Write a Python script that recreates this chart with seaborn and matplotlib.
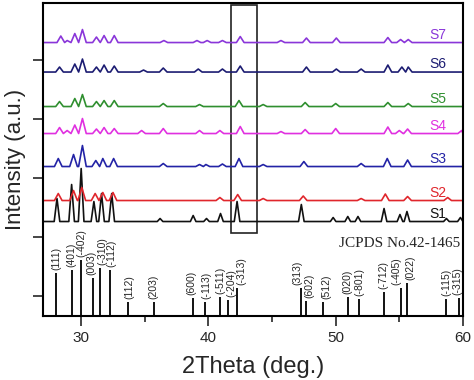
import numpy as np
import pandas as pd
import matplotlib
matplotlib.use('Agg')
import matplotlib.pyplot as plt
from matplotlib.patches import Rectangle
import seaborn as sns

sns.set_theme(style='ticks')
plt.rcParams['font.family'] = 'sans-serif'
plt.rcParams['font.sans-serif'] = ['Liberation Sans', 'DejaVu Sans']

# ---------------- data ----------------
# intensities are in "pixels above the x axis" of the original figure
samples = ['S1', 'S2', 'S3', 'S4', 'S5', 'S6', 'S7']
colors = ['#111111', '#e0262c', '#2323a6', '#e030e0', '#2f8f2f', '#1c1c72', '#8a36d9']
baselines = [94.5, 115.5, 149.5, 182.5, 209.5, 244, 273.5]

s1_pos = [28.1, 29.25, 30.0, 31.0, 31.6, 32.4, 36.2, 38.8, 39.85, 40.95, 42.25, 47.3, 49.8, 50.95, 51.75, 53.8, 55.05, 55.6, 58.7, 59.8]
s1_int = [23, 37, 53, 20, 28, 28, 3, 6, 3, 8, 20, 17, 4, 5, 5, 13, 7, 10, 3, 4]
s2_pos = [28.2, 29.4, 30.05, 31.1, 31.7, 32.5, 40.9, 42.3, 44.3, 47.45, 52.0, 53.9, 55.65, 58.8]
s2_int = [7, 10, 13, 7, 8, 8, 3, 6, 2, 4.5, 2, 6.5, 4, 3]
s3_pos = [28.2, 29.4, 30.1, 31.15, 31.7, 32.55, 36.45, 39.3, 39.8, 41.1, 42.4, 44.3, 47.5, 52.0, 54.05, 55.65]
s3_int = [8, 12, 21, 6, 8, 8, 3, 2, 2, 2.5, 8, 2, 5, 3, 8, 6.5]
s4_pos = [28.3, 28.9, 29.5, 30.1, 31.2, 31.8, 32.6, 34.75, 36.45, 39.3, 40.9, 42.5, 45.7, 47.6, 50.0, 54.1, 55.0, 55.65, 59.9]
s4_int = [6, 3, 8.5, 15, 4.5, 6, 5, 3, 5, 3, 3, 7, 2, 4, 5, 6.5, 3, 4.5, 3]
s5_pos = [28.3, 29.5, 30.1, 31.2, 31.8, 32.6, 36.45, 39.3, 42.4, 44.3, 47.6, 50.0, 54.1, 55.7]
s5_int = [5, 8, 12, 5, 6, 6, 3, 2, 6, 2, 4, 3, 4, 3]
s6_pos = [28.3, 29.5, 30.1, 31.2, 31.8, 32.6, 34.9, 36.45, 39.2, 41.1, 42.5, 47.7, 50.05, 52.0, 54.1, 55.2, 55.7]
s6_int = [5, 8, 13, 5, 7, 6, 2, 4, 3, 3, 6, 5, 3, 3, 7, 5, 5]
s7_pos = [28.4, 28.9, 29.5, 30.1, 31.2, 31.8, 32.6, 36.5, 39.1, 39.9, 41.1, 42.5, 45.7, 47.7, 50.05, 54.1, 55.1, 55.7]
s7_int = [6.5, 2, 9, 13, 5.5, 7, 7, 2, 2, 2, 2, 6, 2, 4.5, 4.5, 5, 3, 3]

# JCPDS No.42-1465 reference pattern
hkl = ['(111)', '(401)', '(-402)', '(003)', '(-310)', '(-112)', '(112)', '(203)',
       '(600)', '(-113)', '(-511)', '(-204)', '(-313)', '(313)', '(602)', '(512)',
       '(020)', '(-801)', '(-712)', '(-405)', '(022)', '(-115)', '(-315)']
ref_pos = [28.0, 29.25, 29.95, 30.9, 31.5, 32.3, 33.7, 35.7, 38.8, 39.7, 40.9, 41.5,
           42.25, 47.3, 47.65, 49.0, 51.0, 51.85, 53.8, 55.1, 55.6, 58.7, 59.7]
ref_int = [43, 46, 56, 38, 48, 46, 14, 14, 18, 14, 19, 16, 28, 28, 15, 14, 19, 17,
           24, 28, 33, 17, 18]
# where the hkl labels sit (they are spread a bit where sticks crowd)
hkl_x = [28.02, 29.2, 29.98, 30.84, 31.63, 32.41, 33.8, 35.67, 38.69, 39.86, 40.9,
         41.82, 42.6, 47.02, 47.96, 49.27, 50.89, 51.89, 53.71, 54.76, 55.86, 58.69, 59.57]

peaks = [(s1_pos, s1_int), (s2_pos, s2_int), (s3_pos, s3_int), (s4_pos, s4_int),
         (s5_pos, s5_int), (s6_pos, s6_int), (s7_pos, s7_int)]


def peak_path(pos, heights, base, hw, x0=27.0, x1=60.0):
    # polyline: flat baseline with a sharp peak at every read peak position
    xs, ys = [x0], [base]
    for p, h in zip(pos, heights):
        left = max(p - hw, xs[-1])
        xs += [left, p, min(p + hw, x1)]
        ys += [base, base + h, base]
    xs.append(x1)
    ys.append(base)
    return pd.DataFrame({'two_theta': xs, 'intensity': ys})


fig = plt.figure(figsize=(4.74, 3.8), dpi=100)
ax = fig.add_axes([0.0907, 0.1684, 0.886, 0.8236])

for i, (name, col, base, (pos, hts)) in enumerate(zip(samples, colors, baselines, peaks)):
    hw = 0.22 if i == 0 else 0.3
    d = peak_path(pos, hts, base, hw)
    sns.lineplot(data=d, x='two_theta', y='intensity', color=col, lw=1.2,
                 estimator=None, sort=False, ax=ax)
    ax.text(58.0, base + 8, name, color=col, fontsize=10, ha='center', va='center')

# reference sticks
ax.vlines(ref_pos, 0, ref_int, color='black', lw=1.3)
for lx, h, lab in zip(hkl_x, ref_int, hkl):
    ax.text(lx, h + 3, lab, rotation=90, fontsize=7.5, ha='center', va='bottom')
ax.text(59.75, 73, 'JCPDS No.42-1465', family=['Liberation Serif', 'DejaVu Serif'],
        fontsize=11, ha='right', va='center')

# box around the ~42.3 deg peak
ax.add_patch(Rectangle((41.75, 83), 2.1, 228, fill=False, ec='#222222', lw=1.2))

ax.set_xlim(27, 60)
ax.set_ylim(0, 313)
ax.set_xticks([30, 40, 50, 60])
ax.set_xticks([35, 45, 55], minor=True)
ax.set_yticks([20, 79, 138, 197, 256])
ax.set_yticklabels([])
ax.tick_params(axis='x', which='major', length=7, width=1.2, labelsize=11, pad=4, direction='out')
ax.tick_params(axis='x', which='minor', length=4, width=1.2, direction='out')
ax.tick_params(axis='y', length=7, width=1.2, direction='out')
for s in ax.spines.values():
    s.set_linewidth(1.5)
    s.set_color('black')

ax.set_xlabel('2Theta (deg.)', fontsize=17, labelpad=8)
ax.set_ylabel('Intensity (a.u.)', fontsize=16, labelpad=2)

plt.savefig('out.png', dpi=100)
plt.close()
